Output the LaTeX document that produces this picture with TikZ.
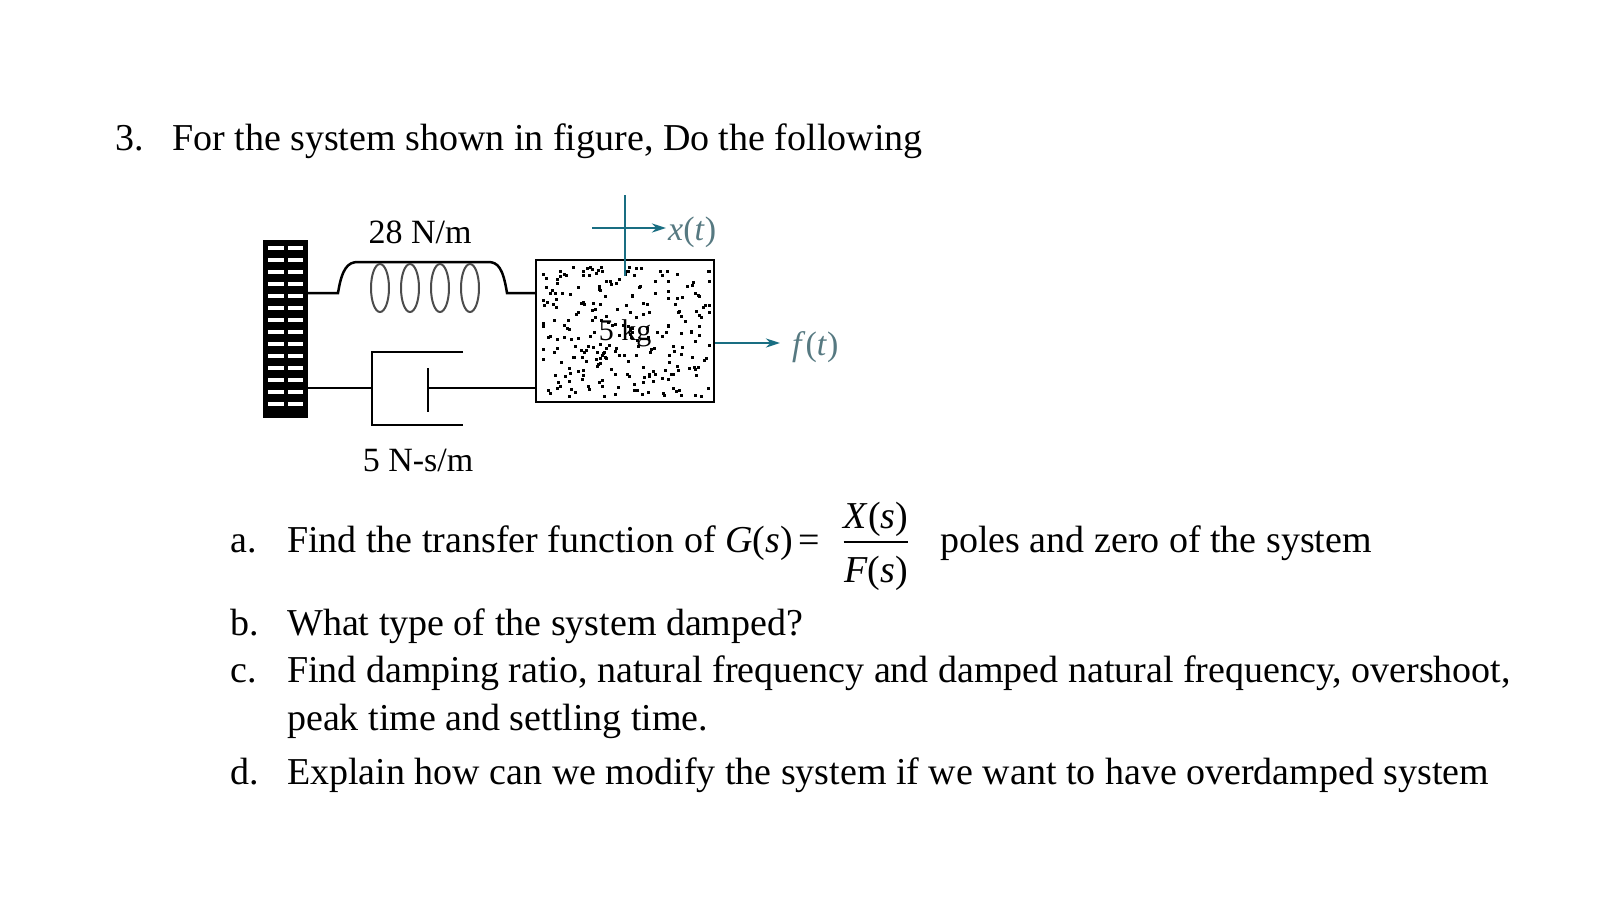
\documentclass[tikz,border=0pt]{standalone}
\usepackage{fontspec}
\setmainfont{Liberation Serif}
\usetikzlibrary{arrows.meta}
\definecolor{teal1}{RGB}{25,110,130}
\begin{document}
\begin{tikzpicture}[x=1pt,y=-1pt,
  txt/.style={anchor=base west,inner sep=0,font=\fontsize{38}{46}\selectfont},
  lbl/.style={inner sep=0,font=\fontsize{34}{40}\selectfont},
  mech/.style={line width=2.5pt},
  arr/.style={teal1,line width=2.5pt,-{Stealth[length=14pt,width=9pt]}}]
\useasboundingbox (0,0) rectangle (1600,905);
% text
\node[txt] (n3) at (115,150) {3.};
\node[txt] (t3) at (172,150) {For the system shown in figure, Do the following};
\node[txt] (ia) at (230,552) {a.};
\node[txt] (ta) at (287,552) {Find the transfer function of \textit{G}(\textit{s})\,=};
\node[txt,anchor=base] (num) at (876,528) {\textit{X}(\textit{s})};
\node[txt,anchor=base] (den) at (876,582) {\textit{F}(\textit{s})};
\draw[line width=1.6pt] (num.south west |- 0,542) -- (num.south east |- 0,542);
\node[txt] (ta2) at (940,552) {poles and zero of the system};
\node[txt] (ib) at (230,635) {b.};
\node[txt] (tb) at (287,635) {What type of the system damped?};
\node[txt] (ic) at (230,682) {c.};
\node[txt] (tc) at (287,682) {Find damping ratio, natural frequency and damped natural frequency, overshoot,};
\node[txt] (tc2) at (287,730) {peak time and settling time.};
\node[txt] (id) at (230,784) {d.};
\node[txt] (td) at (287,784) {Explain how can we modify the system if we want to have overdamped system};
% wall
\fill[black] (263,240) rectangle (308,418);
\foreach \y in {246,258,...,410}{
  \fill[white] (268,\y) rectangle (284,\y+4);
  \fill[white] (288,\y) rectangle (303,\y+4);
}
% mass
\node[draw,mech,minimum width=178pt,minimum height=142pt,inner sep=0] (m) at (625,331) {};
\pgfmathsetseed{7}
\foreach \i in {1,...,260}{
  \pgfmathsetmacro{\px}{542+random(0,166)}
  \pgfmathsetmacro{\py}{266+random(0,130)}
  \fill (\px,\py) rectangle ++(2.5,2.5);
}
\node[lbl,font=\fontsize{30}{36}\selectfont] (mk) at (625,333) {5 kg};
% spring
\coordinate (s0) at (308,293);
\coordinate (s1) at (536,293);
\draw[mech] (s0) -- (338,293) .. controls (342,268) and (348,262) .. (358,262) -- (488,262)
  .. controls (498,262) and (503,268) .. (507,293) -- (s1);
\foreach \cx in {380,410,440,470}
  \draw[line width=2pt,gray!60!black] (\cx,288) ellipse (9pt and 24pt);
\node[lbl] (k) at (420,232) {28 N/m};
% damper
\coordinate (d0) at (308,388);
\coordinate (d1) at (536,388);
\draw[mech] (d0) -- (372,388);
\draw[mech] (463,352) -- (372,352) -- (372,425) -- (463,425);
\draw[mech] (428,368) -- (428,412);
\draw[mech] (428,388) -- (d1);
\node[lbl] (c) at (418,460) {5 N-s/m};
% x(t)
\draw[teal1,line width=2.5pt] (625,195) -- (625,276);
\coordinate (xa) at (592,228);
\coordinate (xb) at (666,228);
\draw[arr] (xa) -- (xb);
\node[lbl,teal1!40!gray,anchor=west] (xt) at (668,232) {\textit{x}(\textit{t})};
% f(t)
\coordinate (fb) at (780,343);
\draw[arr] (m.east |- fb) -- (fb);
\node[lbl,teal1!40!gray,anchor=west] (ft) at (792,347) {\textit{f}(\textit{t})};
\end{tikzpicture}
\end{document}
